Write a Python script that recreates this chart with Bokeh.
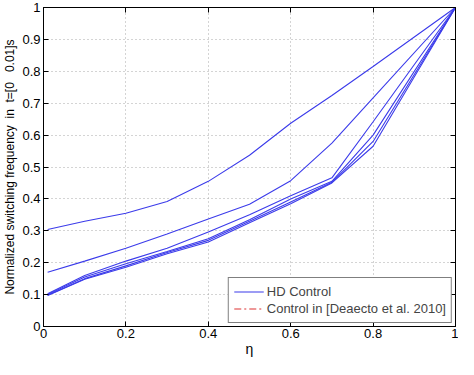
from bokeh.plotting import figure
from bokeh.models import (LinearAxis, Range1d, FixedTicker, CustomJSTickFormatter,
                          Legend, LegendItem)
from bokeh.embed import file_html
from bokeh.resources import INLINE

# ---- data ----
eta = [0.01, 0.1, 0.2, 0.3, 0.4, 0.5, 0.6, 0.7, 0.8, 1.0]
hd_1 = [0.304, 0.330, 0.355, 0.392, 0.455, 0.537, 0.637, 0.724, 0.815, 1.0]
hd_2 = [0.170, 0.205, 0.245, 0.290, 0.337, 0.383, 0.457, 0.575, 0.717, 1.0]
hd_3 = [0.103, 0.160, 0.205, 0.245, 0.296, 0.350, 0.410, 0.466, 0.642, 1.0]
hd_4 = [0.100, 0.155, 0.197, 0.235, 0.275, 0.335, 0.400, 0.455, 0.600, 1.0]
hd_5 = [0.098, 0.150, 0.190, 0.232, 0.270, 0.330, 0.390, 0.452, 0.580, 1.0]
hd_6 = [0.097, 0.148, 0.186, 0.228, 0.265, 0.325, 0.385, 0.450, 0.565, 1.0]
hd_series = [hd_1, hd_2, hd_3, hd_4, hd_5, hd_6]
ref_x = [0.0, 1.0]
ref_y = [1.0, 1.0]

x_ticks = [0, 0.2, 0.4, 0.6, 0.8, 1.0]
y_ticks = [0, 0.1, 0.2, 0.3, 0.4, 0.5, 0.6, 0.7, 0.8, 0.9, 1.0]

FONT = "Liberation Sans"
NB = "\u00a0"
y_label = "Normalized switching frequency" + NB * 2 + "in" + NB * 2 + "t=[0" + NB * 3 + "0.01]s"

p = figure(width=458, height=359, output_backend="svg", toolbar_location=None,
           x_range=Range1d(0, 1), y_range=Range1d(0, 1),
           min_border_top=7, min_border_right=3, min_border_left=2, min_border_bottom=0)
p.background_fill_color = "white"
p.border_fill_color = "white"
p.outline_line_color = "black"
p.outline_line_width = 1

fmt = CustomJSTickFormatter(code="return Number(tick.toFixed(2)).toString();")
blank = CustomJSTickFormatter(code="return '';")

for ax in (p.xaxis[0], p.yaxis[0]):
    ax.major_label_text_font = FONT
    ax.major_label_text_font_size = "13px"
    ax.major_label_text_color = "black"
    ax.axis_label_text_font = FONT
    ax.axis_label_text_font_style = "normal"
    ax.axis_label_text_color = "black"
    ax.major_tick_in = 5
    ax.major_tick_out = 0
    ax.minor_tick_in = 0
    ax.minor_tick_out = 0
    ax.axis_line_color = "black"
    ax.major_tick_line_color = "black"
    ax.formatter = fmt

p.xaxis[0].ticker = FixedTicker(ticks=x_ticks)
p.yaxis[0].ticker = FixedTicker(ticks=y_ticks)
p.xaxis[0].axis_label = "η"
p.xaxis[0].axis_label_text_font_size = "14px"
p.xaxis[0].axis_label_standoff = 0
p.xaxis[0].major_label_standoff = 2
p.yaxis[0].axis_label = y_label
p.yaxis[0].axis_label_text_font_size = "12px"
p.yaxis[0].axis_label_standoff = 2
p.yaxis[0].major_label_standoff = 3

# box axes (right / top) with inward ticks, no labels
ax_r = LinearAxis(ticker=FixedTicker(ticks=y_ticks), formatter=blank,
                  major_label_text_font_size="1px",
                  major_label_standoff=0, major_tick_in=5, major_tick_out=0,
                  minor_tick_in=0, minor_tick_out=0, axis_line_color="black")
ax_t = LinearAxis(ticker=FixedTicker(ticks=x_ticks), formatter=blank,
                  major_label_text_font_size="1px",
                  major_label_standoff=0, major_tick_in=5, major_tick_out=0,
                  minor_tick_in=0, minor_tick_out=0, axis_line_color="black")
p.add_layout(ax_r, "right")
p.add_layout(ax_t, "above")

for g in (p.xgrid[0], p.ygrid[0]):
    g.grid_line_color = "#a8a8a8"
    g.grid_line_dash = "1 3"
    g.grid_line_width = 1
p.xgrid[0].ticker = FixedTicker(ticks=x_ticks)
p.ygrid[0].ticker = FixedTicker(ticks=y_ticks)

blue = "#3b3bea"
renderers = []
for ys in hd_series:
    r = p.line(eta, ys, line_color=blue, line_width=1.1)
    renderers.append(r)

r_ref = p.line(ref_x, ref_y, line_color="#dd3333", line_width=1.2, line_dash="7 3 2 3")

legend = Legend(items=[LegendItem(label="HD Control", renderers=[renderers[0]]),
                       LegendItem(label="Control in [Deaecto et al. 2010]", renderers=[r_ref])],
                location="bottom_right", margin=3, padding=5, spacing=0,
                glyph_width=30, glyph_height=17, label_height=17, label_standoff=3,
                label_text_font=FONT, label_text_font_size="13px",
                border_line_color="black", border_line_width=1,
                background_fill_color="white", background_fill_alpha=1.0)
p.add_layout(legend)

open("out.html", "w").write(file_html(p, INLINE))
